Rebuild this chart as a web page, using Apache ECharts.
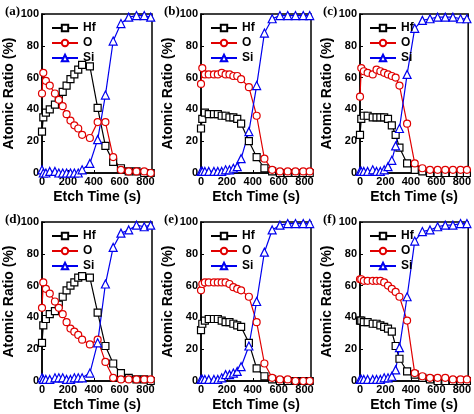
<!DOCTYPE html><html><head><meta charset="utf-8"><script src="https://cdn.jsdelivr.net/npm/echarts@6/dist/echarts.min.js"></script></head><body style="margin:0"><div id="c" style="width:474px;height:414px"></div><script>
const xs=[0,10,30,60,100,130,160,190,220,250,280,310,370,430,490,550,610,670,730,790,840];
const labels=['(a)','(b)','(c)','(d)','(e)','(f)'];
const hfA=[26,35,38,40,43,47,51,55,59,62,65,68,67,41,17,7,3,1,1,0,0];
const oA=[50,63,58,55,50,46,42,37,33,30,28,24,22,32,32,10,2,1,1,1,0];
const siA=[2,0,0,1,1,0,0,0,0,0,0,2,6,21,49,83,94,98,99,99,98];
const hfB=[28,34,38,37,37,37,36,36,35,35,34,31,20,10,3,1,0,0,0,0,0];
const oB=[56,66,62,62,62,62,63,62,62,61,61,59,54,36,9,2,1,1,1,1,1];
const siB=[1,1,1,1,1,1,1,2,2,3,4,9,26,55,88,97,99,99,99,99,99];
const hfC=[24,34,36,36,35,35,35,35,34,30,24,16,6,2,1,0,0,0,0,0,0];
const oC=[48,66,64,63,62,65,64,63,62,61,60,55,31,6,3,2,2,2,2,2,2];
const siC=[1,1,1,1,2,1,1,2,4,8,17,28,62,91,96,97,98,98,98,97,97];
const hfD=[24,35,39,42,44,48,53,57,60,62,65,66,65,43,22,11,5,2,1,1,0];
const oD=[46,62,58,55,50,46,42,37,33,31,29,26,23,26,12,2,1,1,1,1,1];
const siD=[2,1,1,1,2,2,2,1,1,2,2,2,5,24,61,84,93,95,98,97,98];
const hfE=[32,36,38,39,39,39,38,37,37,36,35,34,24,8,3,1,0,0,0,0,0];
const oE=[57,61,62,62,62,62,62,62,61,59,58,57,53,37,11,2,1,1,0,0,0];
const siE=[1,1,1,1,1,1,2,4,4,5,6,9,22,50,81,95,98,99,99,99,99];
const hfF=[38,38,37,37,36,36,35,34,33,31,22,14,6,4,2,1,0,0,0,0,0];
const oF=[64,64,63,63,63,63,63,62,60,58,56,53,38,5,3,2,2,2,1,1,1];
const siF=[1,1,1,1,1,1,1,2,2,3,7,21,53,88,94,95,97,98,98,99,99];
const panels=[[hfA,oA,siA],[hfB,oB,siB],[hfC,oC,siC],[hfD,oD,siD],[hfE,oE,siE],[hfF,oF,siF]];
const lefts=[42,201,360],tops=[14,222],W=110,H=159;
const names=['Hf','O','Si'],cols=['#000','#e00000','#0000ee'],syms=['rect','circle','triangle'];
const grid=[],xAxis=[],yAxis=[],series=[],legend=[],title=[];
const lab={color:'#000',fontWeight:'bold',fontSize:11,fontFamily:'Arial'};
panels.forEach((p,i)=>{
 const l=lefts[i%3],t=tops[Math.floor(i/3)];
 grid.push({left:l,top:t,width:W,height:H,show:true,borderColor:'#000',borderWidth:1.5,backgroundColor:'transparent'});
 xAxis.push({type:'value',gridIndex:i,min:0,max:850,interval:200,name:'Etch Time (s)',nameLocation:'middle',nameGap:17,nameTextStyle:{color:'#000',fontWeight:'bold',fontSize:14,fontFamily:'Arial'},axisLine:{lineStyle:{color:'#000',width:1.5}},axisTick:{inside:true,length:3,lineStyle:{color:'#000'}},axisLabel:Object.assign({margin:3},lab),splitLine:{show:false}});
 yAxis.push({type:'value',gridIndex:i,min:0,max:100,interval:20,name:'Atomic Ratio (%)',nameLocation:'middle',nameGap:26,nameTextStyle:{color:'#000',fontWeight:'bold',fontSize:14,fontFamily:'Arial'},axisLine:{lineStyle:{color:'#000',width:1.5}},axisTick:{inside:true,length:3,lineStyle:{color:'#000'}},axisLabel:Object.assign({margin:3},lab),splitLine:{show:false}});
 p.forEach((arr,k)=>series.push({type:'line',name:names[k],xAxisIndex:i,yAxisIndex:i,data:xs.map((x,j)=>[x,arr[j]]),symbol:syms[k],symbolSize:k==2?8:7,showSymbol:true,lineStyle:{color:cols[k],width:1.2},itemStyle:{color:'#fff',borderColor:cols[k],borderWidth:1.2},emphasis:{disabled:true}}));
 legend.push({orient:'vertical',left:l+4,top:t+3,itemGap:3,itemWidth:26,itemHeight:8,data:names,textStyle:Object.assign({},lab,{fontSize:12}),selectedMode:false});
 title.push({text:labels[i],left:l-42,top:t-14,textStyle:{fontFamily:'Liberation Serif',fontWeight:'bold',fontSize:13,color:'#000'}});
});
const ch=echarts.init(document.getElementById('c'));
ch.setOption({animation:false,backgroundColor:'#fff',grid,xAxis,yAxis,series,legend,title});
</script></body></html>
